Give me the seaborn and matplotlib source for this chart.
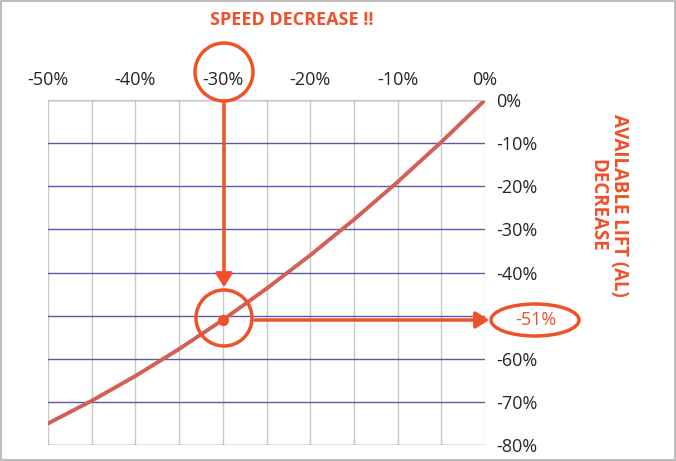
import matplotlib
matplotlib.use("Agg")
import matplotlib.pyplot as plt
from matplotlib.patches import Ellipse, FancyArrowPatch
import pandas as pd
import seaborn as sns

# speed change (%) vs available lift change (%)
speed = [-50, -45, -40, -35, -30, -25, -20, -15, -10, -5, 0]
lift = [-75, -69.75, -64, -57.75, -51, -43.75, -36, -27.75, -19, -9.75, 0]
x_ticks = [-50, -40, -30, -20, -10, 0]
y_ticks = [0, -10, -20, -30, -40, -50, -60, -70, -80]

sns.set_style("white")
plt.rcParams["font.family"] = ["Open Sans", "DejaVu Sans"]
RED = "#f0502a"

W, H = 676, 461
fig = plt.figure(figsize=(W / 100, H / 100), dpi=100)
ax = fig.add_axes([48 / W, 1 - 445 / H, 437 / W, 345 / H])

df = pd.DataFrame({"speed": speed, "lift": lift})
sns.lineplot(data=df, x="speed", y="lift", ax=ax, color="#d35f55", lw=2.8)

ax.set_xlim(-50, 0)
ax.set_ylim(-80, 0)
ax.set_xticks(x_ticks)
ax.set_xticks(range(-45, 0, 10), minor=True)
ax.set_yticks(y_ticks)
ax.xaxis.tick_top()
ax.yaxis.tick_right()
ax.set_xticklabels([f"{v}%" for v in x_ticks], fontsize=13)
# the -50% label is covered by the arrow/ellipse in the original
ax.set_yticklabels(["" if v == -50 else f"{v}%" for v in y_ticks], fontsize=13)
ax.tick_params(which="both", length=0, pad=8)
ax.grid(axis="x", which="both", color="#c8c8c8", lw=1)
ax.grid(axis="y", color="#5a5aa8", lw=1)
ax.set_xlabel("")
ax.set_ylabel("")
for s in ax.spines.values():
    s.set_visible(False)
ax.spines["top"].set_visible(True)
ax.spines["top"].set_color("#c8c8c8")

tf = fig.transFigure
def fx(px): return px / W
def fy(py): return 1 - py / H

fig.text(fx(292), fy(20), "SPEED DECREASE !!", color=RED, fontsize=13,
         fontweight="bold", ha="center", va="center")
fig.text(fx(608), fy(205), "AVAILABLE LIFT (AL)\nDECREASE", color=RED, fontsize=13.5,
         fontweight="bold", ha="center", va="center", rotation=-90, linespacing=1.1)

for cx, cy, w, h in [(224, 72, 58, 58), (224, 318, 56, 56), (535, 320, 88, 32)]:
    fig.patches.append(Ellipse((fx(cx), fy(cy)), w / W, h / H, transform=tf,
                               fill=False, ec=RED, lw=2.5))
fig.text(fx(536), fy(320), "-51%", color=RED, fontsize=13, ha="center", va="center")

ax.plot([-30], [-51], "o", color=RED, ms=7)
for (x0, y0), (x1, y1) in [((224, 101), (224, 290)), ((252, 320), (492, 320))]:
    fig.patches.append(FancyArrowPatch((fx(x0), fy(y0)), (fx(x1), fy(y1)), transform=tf,
                                       arrowstyle="-|>,head_length=8,head_width=5",
                                       color=RED, lw=2.5))

fig.patches.append(plt.Rectangle((0.002, 0.003), 0.996, 0.994, transform=tf,
                                 fill=False, ec="#b0b0b0", lw=1.2))
fig.savefig("out.png", dpi=100)
